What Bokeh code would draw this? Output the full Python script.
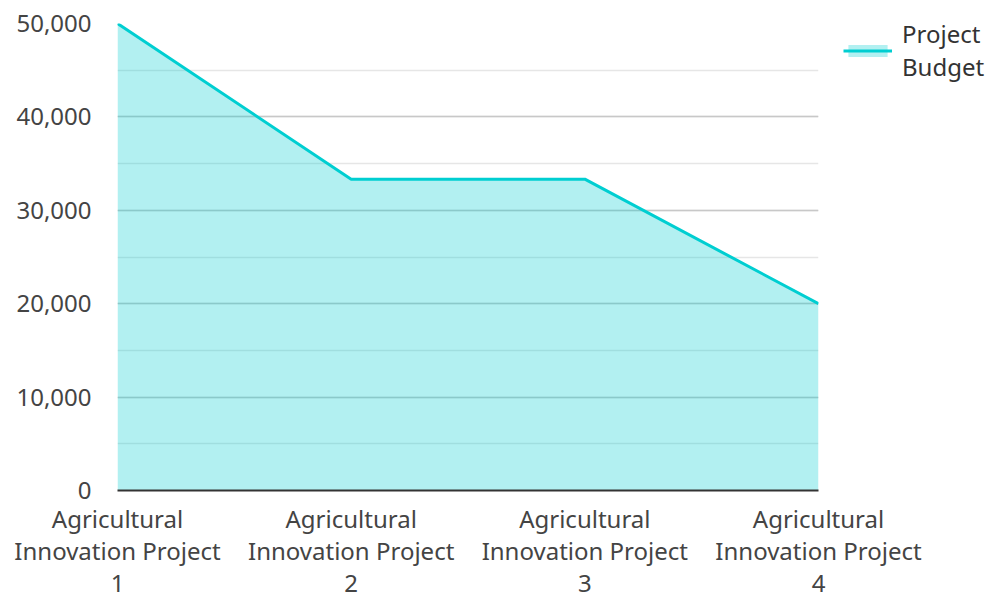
from bokeh.plotting import figure
from bokeh.models import Range1d, SingleIntervalTicker, FixedTicker, NumeralTickFormatter, Legend, LegendItem, ColumnDataSource
from bokeh.embed import file_html
from bokeh.resources import INLINE

categories = ["Agricultural\nInnovation Project\n1", "Agricultural\nInnovation Project\n2",
              "Agricultural\nInnovation Project\n3", "Agricultural\nInnovation Project\n4"]
budget = [50000, 33333, 33333, 20000]
series_name = "Project\nBudget"

xs = list(range(len(categories)))
src = ColumnDataSource(dict(x=xs, y=budget, y0=[0] * len(xs)))

FONT = "Noto Sans"
FS = "24px"
p = figure(frame_width=701, frame_height=467, output_backend="svg", toolbar_location=None,
           x_range=Range1d(0, len(categories) - 1), y_range=Range1d(0, 50000),
           min_border_left=117, min_border_top=23, min_border_right=170, min_border_bottom=102)
p.outline_line_color = None

area = p.varea(x="x", y1="y0", y2="y", source=src, fill_color="#00CED1", fill_alpha=0.3)
line = p.line(x="x", y="y", source=src, line_color="#00CED1", line_width=3)

p.xaxis.ticker = FixedTicker(ticks=xs)
p.xaxis.major_label_overrides = {i: c for i, c in enumerate(categories)}
p.yaxis.ticker = SingleIntervalTicker(interval=10000, num_minor_ticks=2)
p.yaxis.formatter = NumeralTickFormatter(format="0,0")

for ax in (p.xaxis[0], p.yaxis[0]):
    ax.major_label_text_font = FONT
    ax.major_label_text_font_size = FS
    ax.major_label_text_color = "#444444"
    ax.major_label_text_line_height = 0.98
    ax.major_tick_line_color = None
    ax.minor_tick_line_color = None
p.yaxis.axis_line_color = None
p.yaxis.major_label_standoff = 20
p.xaxis.axis_line_color = "#333333"
p.xaxis.axis_line_width = 2
p.xaxis.major_label_standoff = 5

p.xgrid.grid_line_color = None
p.ygrid.grid_line_color = "#c8c8c8"
p.ygrid.grid_line_width = 1.5
p.ygrid.minor_grid_line_color = "#e6e6e6"
p.ygrid.minor_grid_line_width = 1.5

legend = Legend(items=[LegendItem(label=series_name, renderers=[area, line])],
                location=(25, 407), border_line_color=None, background_fill_alpha=0,
                label_text_font=FONT, label_text_font_size=FS, label_text_color="#333333",
                label_text_line_height=0.98,
                glyph_width=49, glyph_height=15, margin=0, padding=0, spacing=0,
                label_standoff=10)
p.add_layout(legend, "right")

open("out.html", "w").write(file_html(p, INLINE))
